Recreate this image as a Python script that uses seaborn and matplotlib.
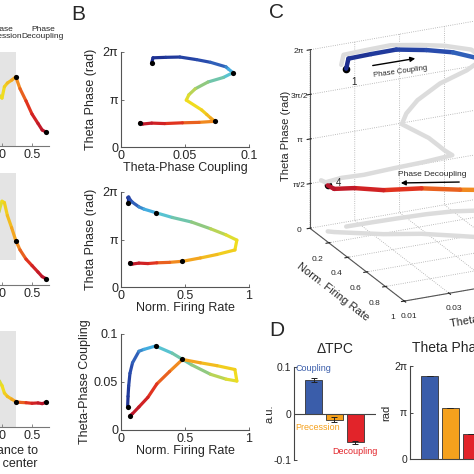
import numpy as np
import matplotlib
matplotlib.use('Agg')
import matplotlib.pyplot as plt
import seaborn as sns
from matplotlib.collections import LineCollection
from matplotlib.colors import LinearSegmentedColormap
from matplotlib.patches import FancyArrowPatch
from mpl_toolkits.mplot3d.art3d import Line3DCollection

PI = np.pi

# trajectory across the field: point 1 -> 2 -> middle -> 3 -> 4
dist = [-0.73, -0.70, -0.63, -0.56, -0.49, -0.42, -0.35, -0.30, -0.23,
        -0.18, -0.13, -0.08, -0.04, 0.00, 0.04, 0.09, 0.16, 0.23,
        0.30, 0.40, 0.50, 0.60, 0.67, 0.73]
tpc = [0.024, 0.025, 0.035, 0.046, 0.059, 0.070, 0.082, 0.084, 0.0875,
       0.080, 0.068, 0.058, 0.053, 0.051, 0.063, 0.067, 0.070, 0.0735,
       0.061, 0.048, 0.034, 0.024, 0.017, 0.015]
phase = [5.56, 5.90, 5.93, 5.95, 5.78, 5.60, 5.30, 5.15, 4.92,
         4.60, 4.30, 3.85, 3.45, 3.10, 2.45, 2.15, 1.92, 1.70,
         1.63, 1.60, 1.55, 1.58, 1.52, 1.62]
rate = [0.052, 0.052, 0.055, 0.060, 0.07, 0.09, 0.14, 0.18, 0.27,
        0.40, 0.55, 0.70, 0.82, 0.905, 0.89, 0.75, 0.62, 0.48,
        0.38, 0.28, 0.21, 0.14, 0.09, 0.07]
dot_idx = [0, 8, 17, 23]

# panel D
groups = ['Coupling', 'Precession', 'Decoupling']
group_colors = ['#3a5daa', '#f5a11d', '#e2242a']
dtpc = [0.072, -0.013, -0.062]
dtpc_err = [0.005, 0.005, 0.003]
grp_phase = [5.61, 3.45, 1.69]
grp_phase_err = [0.02, 0.02, 0.02]

sns.set_style('ticks')
plt.rcParams['font.family'] = ['Liberation Sans', 'DejaVu Sans']
plt.rcParams['axes.linewidth'] = 0.8

traj_cmap = LinearSegmentedColormap.from_list('traj', [
    (0.0, '#1a2a8c'), (0.22, '#2c52b2'), (0.34, '#48c2ea'), (0.42, '#86c68a'),
    (0.5, '#f0e21e'), (0.66, '#f49a1f'), (0.82, '#df2a1f'), (1.0, '#b3112d')])
d = np.array(dist)
mid = (d[:-1] + d[1:]) / 2
seg_colors = traj_cmap((mid - d[0]) / (d[-1] - d[0]))

W = 474


def rect(x0, y0, x1, y1):
    return [x0 / W, 1 - y1 / W, (x1 - x0) / W, (y1 - y0) / W]


def fpos(x, y):
    return (x / W, 1 - y / W)


def traj_line(ax, xs, ys, lw=2.3):
    pts = np.column_stack([xs, ys])
    segs = np.stack([pts[:-1], pts[1:]], axis=1)
    ax.add_collection(LineCollection(segs, colors=seg_colors, linewidths=lw,
                                     capstyle='round', joinstyle='round', zorder=2))
    ax.scatter(np.array(xs)[dot_idx], np.array(ys)[dot_idx], s=14, color='k',
               zorder=3, linewidths=0)


def style2d(ax):
    sns.despine(ax=ax)
    for s in ['left', 'bottom']:
        ax.spines[s].set_color('#555555')
    ax.tick_params(direction='in', length=2, width=0.6, color='#555555',
                   labelsize=9, pad=2)


fig = plt.figure(figsize=(4.74, 4.74), dpi=100)

# ---- A: values against distance
a_vals = [tpc, rate, phase]
a_boxes = [(52, 146), (173, 285), (331, 427)]
a_ylims = [(0, 0.1), (0, 1.21), (-0.53, 7.89)]
a_span = [0, 0.223, 0]
for vals, (y0, y1), yl, smin in zip(a_vals, a_boxes, a_ylims, a_span):
    ax = fig.add_axes(rect(-44.8, y0, 48.8, y1))
    ax.axvspan(-0.23, 0.23, ymin=smin, color='#e4e4e4', lw=0, zorder=0)
    traj_line(ax, dist, vals)
    ax.set_xlim(-0.78, 0.78)
    ax.set_ylim(*yl)
    ax.set_yticks([])
    sns.despine(ax=ax, left=True)
    ax.spines['bottom'].set_color('#777777')
    ax.set_xticks([-0.5, 0, 0.5], ['-0.5', '0', '0.5'])
    ax.tick_params(direction='in', length=2, width=0.6, color='#777777',
                   labelsize=9, pad=2)
ax.set_xlabel('Distance to\nfield center', fontsize=9, linespacing=1.05)
ax.xaxis.set_label_coords(0.553, -0.19)
fig.text(*fpos(1, 33), 'Phase\nPrecession', fontsize=6, ha='center', va='center',
         linespacing=1.0)
fig.text(*fpos(43, 33), 'Phase\nDecoupling', fontsize=6, ha='center', va='center',
         linespacing=1.0)

# ---- B: pairwise trajectories
axB1 = fig.add_axes(rect(121, 52, 249, 147))
traj_line(axB1, tpc, phase)
axB1.set_xlim(0, 0.1)
axB1.set_ylim(0, 2 * PI)
axB1.set_xticks([0, 0.05, 0.1], ['0', '0.05', '0.1'])
axB1.set_yticks([0, PI, 2 * PI], ['0', 'π', '2π'])
axB1.set_xlabel('Theta-Phase Coupling', fontsize=9, labelpad=0)
axB1.set_ylabel('Theta Phase (rad)', fontsize=9, labelpad=4)

axB2 = fig.add_axes(rect(121, 192, 249, 287))
traj_line(axB2, rate, phase)
axB2.set_xlim(0, 1)
axB2.set_ylim(0, 2 * PI)
axB2.set_xticks([0, 0.5, 1], ['0', '0.5', '1'])
axB2.set_yticks([0, PI, 2 * PI], ['0', 'π', '2π'])
axB2.set_xlabel('Norm. Firing Rate', fontsize=9, labelpad=0)
axB2.set_ylabel('Theta Phase (rad)', fontsize=9, labelpad=4)

axB3 = fig.add_axes(rect(121, 334, 249, 430))
traj_line(axB3, rate, tpc)
axB3.set_xlim(0, 1)
axB3.set_ylim(0, 0.1)
axB3.set_xticks([0, 0.5, 1], ['0', '0.5', '1'])
axB3.set_yticks([0, 0.05, 0.1], ['0', '0.05', '0.1'])
axB3.set_xlabel('Norm. Firing Rate', fontsize=9, labelpad=0)
axB3.set_ylabel('Theta-Phase Coupling', fontsize=9, labelpad=2)
for ax in (axB1, axB2, axB3):
    style2d(ax)

# ---- C: 3D trajectory
ax3 = fig.add_axes([270.8 / W, 138.2 / W, 342.7 / W, 342.7 / W], projection='3d',
                   proj_type='ortho', computed_zorder=False)
ax3.set_facecolor('none')
ax3.view_init(elev=21.5, azim=-25.4)
ax3.set_box_aspect((226, 204, 197))
r = np.array(rate)
c = np.array(tpc)
p = np.array(phase)
gray = '#dcdcdc'
ax3.plot(np.zeros_like(r), c, p, color=gray, lw=3.2, solid_capstyle='round')
ax3.plot(r, c, np.zeros_like(p), color=gray, lw=3.2, solid_capstyle='round')
ax3.plot(r, np.full_like(c, 0.09), p, color=gray, lw=3.2, solid_capstyle='round')
pts3 = np.column_stack([r, c, p])
segs3 = np.stack([pts3[:-1], pts3[1:]], axis=1)
ax3.add_collection3d(Line3DCollection(segs3, colors=seg_colors, linewidths=3.2,
                                      capstyle='round', joinstyle='round'))
ax3.scatter(r[dot_idx], c[dot_idx], p[dot_idx], color='k', s=20, depthshade=False)
ax3.set_xlim(0, 1)
ax3.set_ylim(0.01, 0.09)
ax3.set_zlim(0, 2 * PI)
ax3.set_xticks([0.2, 0.4, 0.6, 0.8, 1], ['0.2', '0.4', '0.6', '0.8', '1'])
ax3.set_yticks([0.01, 0.03, 0.05, 0.07, 0.09], ['0.01', '0.03', '0.05', '0.07', '0.09'])
ax3.set_zticks([0, PI / 2, PI, 3 * PI / 2, 2 * PI], ['0', 'π/2', 'π', '3π/2', '2π'])
ax3.zaxis.set_ticks_position('lower')
ax3.zaxis.set_label_position('lower')
for axis in (ax3.xaxis, ax3.yaxis, ax3.zaxis):
    axis.set_pane_color((1, 1, 1, 0))
    axis.pane.set_edgecolor((1, 1, 1, 0))
    axis._axinfo['grid'].update(color='#a8a8a8', linestyle=':', linewidth=0.6)
    axis.line.set_color('#555555')
    axis.line.set_linewidth(0.8)
ax3.tick_params(axis='x', labelsize=6, pad=0)
ax3.tick_params(axis='y', labelsize=6, pad=-2)
ax3.tick_params(axis='z', labelsize=6, pad=-3)
ax3.set_xlabel('Norm. Firing Rate', fontsize=8, labelpad=-4)
ax3.set_ylabel('Theta-Phase Coupling', fontsize=8, labelpad=-6)
ax3.set_zlabel('Theta Phase (rad)', fontsize=8, labelpad=-10)

fig.text(*fpos(354, 82), '1', fontsize=7, ha='center', va='center')
fig.text(*fpos(338, 183), '4', fontsize=7, ha='center', va='center')
fig.text(*fpos(400, 72), 'Phase Coupling', fontsize=5.5, ha='center', va='center',
         rotation=8)
fig.text(*fpos(432, 175), 'Phase Decoupling', fontsize=6, ha='center', va='center')
fig.add_artist(FancyArrowPatch(fpos(370, 66), fpos(418, 58), transform=fig.transFigure,
                               arrowstyle='-|>', mutation_scale=7, lw=1, color='k'))
fig.add_artist(FancyArrowPatch(fpos(462, 182), fpos(398, 183), transform=fig.transFigure,
                               arrowstyle='-|>', mutation_scale=7, lw=1, color='k'))

# ---- D: bar summaries
axD1 = fig.add_axes(rect(294, 367, 376, 460))
sns.barplot(x=groups, y=dtpc, hue=groups, palette=group_colors, saturation=1,
            edgecolor='#333333', linewidth=0.6, legend=False, ax=axD1)
axD1.errorbar(range(3), dtpc, yerr=dtpc_err, fmt='none', ecolor='#222222',
              elinewidth=0.7, capsize=2, capthick=0.7)
axD1.axhline(0, color='#444444', lw=0.8)
axD1.set_xlim(-0.93, 2.98)
axD1.set_ylim(-0.1, 0.1)
axD1.set_yticks([-0.1, 0, 0.1], ['-0.1', '0', '0.1'])
axD1.set_xticks([])
sns.despine(ax=axD1, bottom=True)
axD1.set_title('ΔTPC', fontsize=10, pad=10)
axD1.set_ylabel('a.u.', fontsize=8, labelpad=-1)
for name, col, x, y in zip(groups, group_colors, [0, 0.17, 1.98], [0.097, -0.030, -0.082]):
    axD1.text(x, y, name, color=col, fontsize=6.5, ha='center', va='center')

axD2 = fig.add_axes(rect(410, 366, 492, 459))
sns.barplot(x=groups, y=grp_phase, hue=groups, palette=group_colors, saturation=1,
            edgecolor='#333333', linewidth=0.6, legend=False, ax=axD2)
axD2.errorbar(range(3), grp_phase, yerr=grp_phase_err, fmt='none', ecolor='#222222',
              elinewidth=0.7, capsize=2, capthick=0.7)
axD2.set_xlim(-0.93, 2.98)
axD2.set_ylim(0, 2 * PI)
axD2.set_yticks([0, PI, 2 * PI], ['0', 'π', '2π'])
axD2.set_xticks([])
sns.despine(ax=axD2)
axD2.set_title('Theta Phase', fontsize=10, pad=10)
axD2.set_ylabel('rad', fontsize=8, labelpad=2)
for ax in (axD1, axD2):
    for s in ['left', 'bottom']:
        ax.spines[s].set_color('#444444')
    ax.tick_params(direction='in', length=2, width=0.6, labelsize=7.5, pad=2)

fig.text(*fpos(78, 15), 'B', fontsize=15, ha='center', va='center')
fig.text(*fpos(277, 13), 'C', fontsize=15, ha='center', va='center')
fig.text(*fpos(277, 330), 'D', fontsize=15, ha='center', va='center')

fig.savefig('out.png', dpi=100)
